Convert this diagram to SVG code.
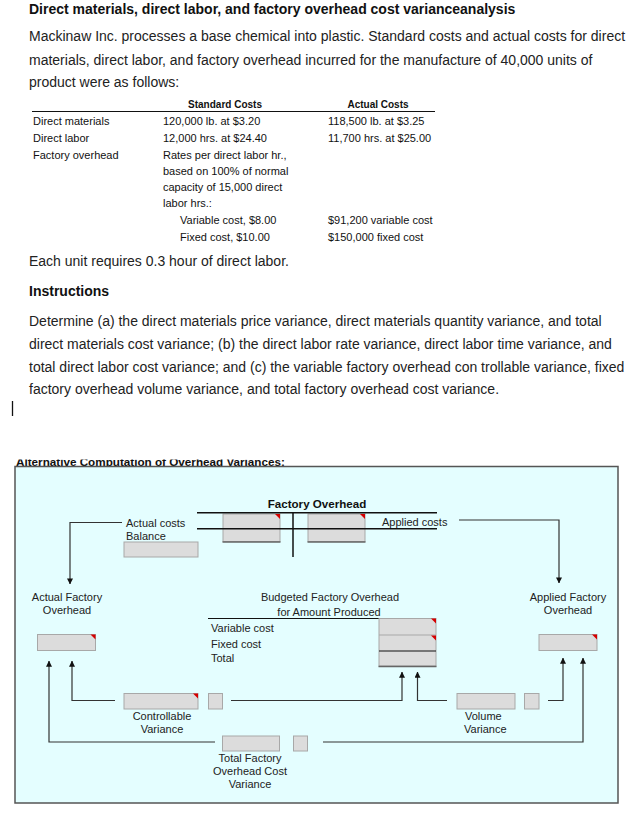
<svg xmlns="http://www.w3.org/2000/svg" width="632" height="823" viewBox="0 0 632 823">
<style>
.p{font-family:"Liberation Sans",Arial,sans-serif;font-size:14px;fill:#222}
.b{font-family:"Liberation Sans",Arial,sans-serif;font-size:14px;font-weight:bold;fill:#111}
.t{font-family:"Liberation Sans",Arial,sans-serif;font-size:11px;fill:#111}
.th{font-family:"Liberation Sans",Arial,sans-serif;font-size:10px;font-weight:bold;fill:#111}
.d{font-family:"Liberation Sans",Arial,sans-serif;font-size:11px;fill:#222}
.dm{font-family:"Liberation Sans",Arial,sans-serif;font-size:11px;fill:#222;text-anchor:middle}
.box{fill:#dcdcdc;stroke:#a8a8a8;stroke-width:1}
.red{fill:#d40000}
.ln{stroke:#111;stroke-width:1.5;fill:none}
.con{stroke:#333;stroke-width:1.2;fill:none}
.sh{stroke:#666;stroke-width:1.5}
</style>
<defs>
<marker id="ar" viewBox="0 0 8 8" refX="7.5" refY="4" markerWidth="6" markerHeight="6" orient="auto" markerUnits="userSpaceOnUse">
<path d="M0,0 L8,4 L0,8 z" fill="#111"/>
</marker>
</defs>
<rect width="632" height="823" fill="#fff"/>

<g id="problem-text">
<text class="b" x="29" y="14">Direct materials, direct labor, and factory overhead cost varianceanalysis</text>
<text class="p" x="29" y="41">Mackinaw Inc. processes a base chemical into plastic. Standard costs and actual costs for direct</text>
<text class="p" x="29" y="65">materials, direct labor, and factory overhead incurred for the manufacture of 40,000 units of</text>
<text class="p" x="29" y="87">product were as follows:</text>
</g>

<g id="cost-table">
<text class="th" x="225" y="108" text-anchor="middle">Standard Costs</text>
<text class="th" x="378" y="108" text-anchor="middle">Actual Costs</text>
<line x1="32" y1="111.5" x2="435" y2="111.5" stroke="#111" stroke-width="1"/>
<text class="t" x="33" y="125">Direct materials</text>
<text class="t" x="33" y="142">Direct labor</text>
<text class="t" x="33" y="159">Factory overhead</text>
<text class="t" x="163" y="125">120,000 lb. at $3.20</text>
<text class="t" x="163" y="142">12,000 hrs. at $24.40</text>
<text class="t" x="163" y="159">Rates per direct labor hr.,</text>
<text class="t" x="163" y="175">based on 100% of normal</text>
<text class="t" x="163" y="191">capacity of 15,000 direct</text>
<text class="t" x="163" y="207">labor hrs.:</text>
<text class="t" x="180" y="224">Variable cost, $8.00</text>
<text class="t" x="180" y="241">Fixed cost, $10.00</text>
<text class="t" x="328" y="125">118,500 lb. at $3.25</text>
<text class="t" x="328" y="142">11,700 hrs. at $25.00</text>
<text class="t" x="328" y="224">$91,200 variable cost</text>
<text class="t" x="328" y="241">$150,000 fixed cost</text>
</g>

<g id="instructions-text">
<text class="p" x="29" y="266">Each unit requires 0.3 hour of direct labor.</text>
<text class="b" x="29" y="296">Instructions</text>
<text class="p" x="29" y="326">Determine (a) the direct materials price variance, direct materials quantity variance, and total</text>
<text class="p" x="29" y="349">direct materials cost variance; (b) the direct labor rate variance, direct labor time variance, and</text>
<text class="p" x="29" y="372">total direct labor cost variance; and (c) the variable factory overhead con trollable variance, fixed</text>
<text class="p" x="29" y="394">factory overhead volume variance, and total factory overhead cost variance.</text>
<line x1="12.5" y1="401" x2="12.5" y2="416" stroke="#111" stroke-width="1.3"/>
</g>

<g id="panel-title">
<text x="16" y="465.5" font-family="Liberation Sans, Arial, sans-serif" font-size="11.7" font-weight="bold" fill="#111">Alternative Computation of Overhead Variances:</text>
<rect x="0" y="448" width="632" height="11.5" fill="#fff"/>
</g>

<rect id="panel" x="15" y="466.5" width="603" height="336.5" fill="#e4feff" stroke="#555" stroke-width="1.5"/>

<g id="factory-overhead-account">
<text x="317" y="508" text-anchor="middle" font-family="Liberation Sans, Arial, sans-serif" font-size="11.6" font-weight="bold" fill="#111">Factory Overhead</text>
<rect class="box" x="223" y="514" width="57" height="27.5"/>
<line class="sh" x1="222.5" y1="542" x2="280.5" y2="542"/>
<polygon class="red" points="275,514 280,514 280,519"/>
<rect class="box" x="308" y="514" width="57" height="27.5"/>
<line class="sh" x1="307.5" y1="542" x2="365.5" y2="542"/>
<polygon class="red" points="360,514 365,514 365,519"/>
<line class="ln" x1="197" y1="512.7" x2="437" y2="512.7"/>
<line class="ln" x1="197" y1="528.7" x2="437" y2="528.7" stroke-width="1.2"/>
<line class="ln" x1="293" y1="512" x2="293" y2="557"/>
</g>

<g id="actual-costs-balance">
<text class="d" x="126" y="526.5">Actual costs</text>
<text class="d" x="126" y="540">Balance</text>
<rect class="box" x="124" y="542" width="74" height="15"/>
</g>

<g id="applied-costs">
<text class="d" x="382" y="526">Applied costs</text>
</g>

<g id="actual-factory-overhead">
<text class="dm" x="67" y="601">Actual Factory</text>
<text class="dm" x="67" y="614">Overhead</text>
<rect class="box" x="37.5" y="634.5" width="58" height="16"/>
<polygon class="red" points="90.5,634.5 95.5,634.5 95.5,639.5"/>
</g>

<g id="applied-factory-overhead">
<text class="dm" x="568" y="601">Applied Factory</text>
<text class="dm" x="568" y="614">Overhead</text>
<rect class="box" x="539" y="634.5" width="58" height="16"/>
<polygon class="red" points="592,634.5 597,634.5 597,639.5"/>
</g>

<g id="budgeted-factory-overhead">
<text class="dm" x="330" y="601">Budgeted Factory Overhead</text>
<text class="dm" x="329" y="616">for Amount Produced</text>
<line x1="208" y1="618.5" x2="379" y2="618.5" stroke="#111" stroke-width="1"/>
<text class="d" x="211" y="632">Variable cost</text>
<text class="d" x="211" y="647.5">Fixed cost</text>
<text class="d" x="211" y="662">Total</text>
<rect class="box" x="379" y="618.5" width="57" height="47.5"/>
<line x1="379" y1="635" x2="436" y2="635" stroke="#a8a8a8" stroke-width="1"/>
<line x1="379" y1="651" x2="436" y2="651" stroke="#111" stroke-width="1"/>
<line class="sh" x1="378.5" y1="666.5" x2="436.5" y2="666.5"/>
<polygon class="red" points="431,618.5 436,618.5 436,623.5"/>
<polygon class="red" points="431,635.5 436,635.5 436,640.5"/>
</g>

<g id="controllable-variance">
<rect class="box" x="124" y="693.5" width="74" height="15.5"/>
<polygon class="red" points="193,693.5 198,693.5 198,698.5"/>
<rect class="box" x="208.5" y="693.5" width="14" height="15.5"/>
<text class="dm" x="162" y="719.5">Controllable</text>
<text class="dm" x="162" y="732.5">Variance</text>
</g>

<g id="volume-variance">
<rect class="box" x="457" y="693.5" width="58" height="15.5"/>
<rect class="box" x="524.5" y="693.5" width="14.5" height="15.5"/>
<text class="d" x="465" y="719.5">Volume</text>
<text class="d" x="464" y="732.5">Variance</text>
</g>

<g id="total-variance">
<rect class="box" x="222.5" y="736" width="57" height="15"/>
<rect class="box" x="293.5" y="736" width="14" height="15"/>
<text class="dm" x="250" y="761.5">Total Factory</text>
<text class="dm" x="250" y="774.5">Overhead Cost</text>
<text class="dm" x="250" y="787.5">Variance</text>
</g>

<g id="connectors">
<polyline class="con" points="122,522.5 70,522.5 70,584" marker-end="url(#ar)"/>
<polyline class="con" points="459,520 559,520 559,583" marker-end="url(#ar)"/>
<polyline class="con" points="115,700.5 72,700.5 72,661" marker-end="url(#ar)"/>
<polyline class="con" points="215,742 49,742 49,661" marker-end="url(#ar)"/>
<polyline class="con" points="231,700.5 402,700.5 402,672" marker-end="url(#ar)"/>
<polyline class="con" points="447,700.5 417.5,700.5 417.5,672" marker-end="url(#ar)"/>
<polyline class="con" points="548,700.5 563,700.5 563,658" marker-end="url(#ar)"/>
<polyline class="con" points="323,742 583,742 583,658" marker-end="url(#ar)"/>
</g>
</svg>
